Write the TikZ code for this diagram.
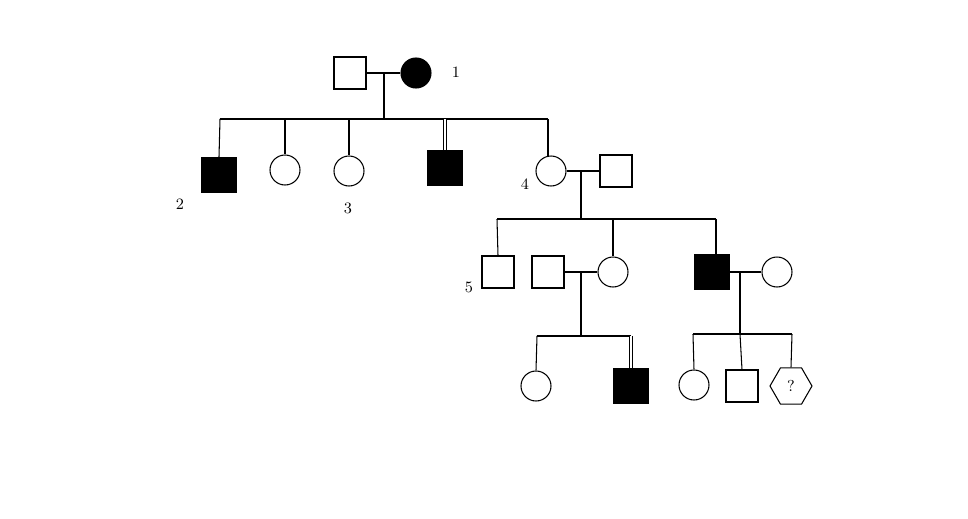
\documentclass[tikz,border=0pt]{standalone}
\usetikzlibrary{shapes.geometric}
\tikzset{
  male/.style={draw, minimum size=32\unitpx, inner sep=0pt},
  female/.style={draw, circle, minimum size=30\unitpx, inner sep=0pt},
  sick/.style={fill=black},
  unknown/.style={draw, regular polygon, regular polygon sides=6, minimum size=42\unitpx, inner sep=0pt, font=\small},
  lbl/.style={font=\small}
}
\newcommand\unitpx{*0.02cm}
\begin{document}
\begin{tikzpicture}[x=0.02cm, y=-0.02cm, line width=0.6pt]
  \useasboundingbox (0,0) rectangle (968,518);
  % generation I
  \node[male] (f1) at (350,73) {};
  \node[female, sick] (m1) at (416,73) {};
  \node[lbl] at (456,72) {1};
  \draw (f1) -- (m1);
  \coordinate (c1) at (384,73);
  \draw (c1) -- (384,119);
  \draw (220,119) -- (548,119);
  % generation II
  \node[male, sick, minimum size=35\unitpx] (a2) at (219,175) {};
  \node[female] (b2) at (285,170) {};
  \node[female] (c2) at (349,171) {};
  \node[male, sick, minimum size=35\unitpx] (d2) at (445,168) {};
  \node[female] (e2) at (551,171) {};
  \node[male] (s2) at (616,171) {};
  \draw (220,119) -- (a2.north);
  \draw (285,119) -- (b2.north);
  \draw (349,119) -- (c2.north);
  \draw[double, double distance=1.5pt, line width=0.5pt] (445,119) -- (d2.north);
  \draw (548,119) -- (548,156);
  \node[lbl] at (180,204) {2};
  \node[lbl] at (348,208) {3};
  \node[lbl] at (525,184) {4};
  \draw (e2) -- (s2);
  \draw (581,171) -- (581,219);
  \draw (497,219) -- (716,219);
  % generation III
  \node[male] (a3) at (498,272) {};
  \node[male] (b3) at (548,272) {};
  \node[female] (c3) at (613,272) {};
  \node[male, sick, minimum size=35\unitpx] (d3) at (712,272) {};
  \node[female] (e3) at (777,272) {};
  \draw (497,219) -- (a3.north);
  \draw (613,219) -- (c3.north);
  \draw (716,219) -- (716,255);
  \node[lbl] at (469,287) {5};
  \draw (b3) -- (c3);
  \draw (581,272) -- (581,336);
  \draw (537,336) -- (631,336);
  \draw (d3) -- (e3);
  \draw (740,272) -- (740,334);
  \draw (693,334) -- (792,334);
  % generation IV
  \node[female] (a4) at (536,386) {};
  \node[male, sick, minimum size=35\unitpx] (b4) at (631,386) {};
  \node[female] (c4) at (694,385) {};
  \node[male] (d4) at (742,386) {};
  \node[unknown] (e4) at (791,386) {?};
  \draw (537,336) -- (a4.north);
  \draw[double, double distance=1.5pt, line width=0.5pt] (631,336) -- (b4.north);
  \draw (693,334) -- (c4.north);
  \draw (740,334) -- (d4.north);
  \draw (792,334) -- (e4.north);
\end{tikzpicture}
\end{document}
